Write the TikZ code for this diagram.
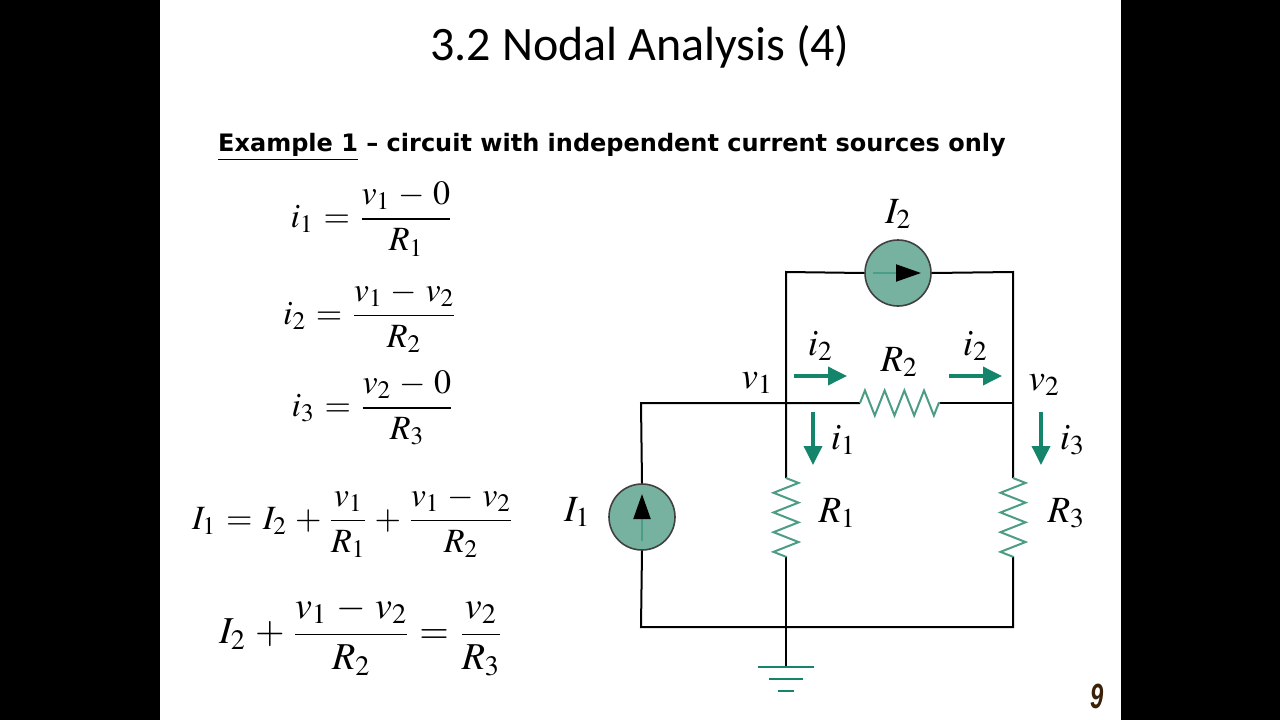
\documentclass[tikz,border=0pt]{standalone}
\usepackage{fontspec}
\usepackage{mathptmx}
\usepackage{amsmath}
\usetikzlibrary{arrows.meta,decorations.pathmorphing}
\newfontfamily\kslidefont{Carlito}
\newfontfamily\kheadfont{DejaVu Sans}
\newfontfamily\knumfont{Liberation Sans}
\definecolor{kgreen}{HTML}{14846A}
\definecolor{kfill}{HTML}{76B29F}
\definecolor{kres}{HTML}{4D9C85}
\definecolor{knum}{HTML}{3B2108}
\tikzset{
  wire/.style={line width=2pt,black},
  resistor/.style={line width=2pt,kres,decorate,decoration={zigzag,segment length=19.7pt,amplitude=12.5pt}},
  srcnode/.style={draw=black!75,line width=1.6pt,circle,fill=kfill,minimum size=66pt,inner sep=0pt},
  srcarrow/.style={line width=2pt,kgreen!45!kfill,-{Triangle[black,length=25pt,width=17pt]}},
  curarrow/.style={line width=3.6pt,kgreen,-{Triangle[length=19pt,width=18pt]}},
  gndline/.style={line width=2.2pt,kgreen},
  eqnode/.style={inner sep=0pt},
  lbl/.style={inner sep=0pt,font=\fontsize{37}{42}\selectfont},
}
\begin{document}
\begin{tikzpicture}[x=1pt,y=-1pt]
\useasboundingbox(0,0)rectangle(1280,720);
\fill[black](0,0)rectangle(1280,720);
\fill[white](160,0)rectangle(1121,720);
\node(title)[inner sep=0pt,font=\kslidefont\fontsize{48}{56}\selectfont]at(640,47){3.2 Nodal Analysis (4)};
\node(head)[inner sep=0pt,font=\kheadfont\bfseries\fontsize{24}{30}\selectfont]at(612,147){\underline{Example 1} – circuit with independent current sources only};
\node(pagenum)[inner sep=0pt,text=knum,xscale=.68,font=\knumfont\bfseries\itshape\fontsize{35}{40}\selectfont]at(1097,696){9};
% equations
\thickmuskip=5.5mu
\medmuskip=4.5mu
\foreach \kn/\kx/\ky/\kfs/\keq in {
  1/371/219/34/{i_1=\dfrac{v_1-0}{R_1}},
  2/369/317/34/{i_2=\dfrac{v_1-v_2}{R_2}},
  3/372/408/34/{i_3=\dfrac{v_2-0}{R_3}},
  4/352/522/34/{I_1=I_2+\dfrac{v_1}{R_1}+\dfrac{v_1-v_2}{R_2}},
  5/360/636/38/{I_2+\dfrac{v_1-v_2}{R_2}=\dfrac{v_2}{R_3}}}{
  \node(eq\kn)[eqnode]at(\kx,\ky){\fontsize{\kfs}{42}\selectfont$\keq$};
}
% circuit corners
\def\kxa{641}
\def\kxb{786}
\def\kxc{1013}
\def\kya{272}
\def\kyb{403}
\def\kyc{627}
\coordinate(tl)at(\kxb,\kya);
\coordinate(tr)at(\kxc,\kya);
\coordinate(ml)at(\kxa,\kyb);
\coordinate(mm)at(\kxb,\kyb);
\coordinate(mr)at(\kxc,\kyb);
\coordinate(bl)at(\kxa,\kyc);
\coordinate(bm)at(\kxb,\kyc);
\coordinate(br)at(\kxc,\kyc);
\coordinate(gnd)at(\kxb,667);
\node(srcb)[srcnode]at(898,273){};
\node(srca)[srcnode]at(642,517){};
\coordinate(rat)at(\kxb,478);
\coordinate(rab)at(\kxb,557);
\coordinate(rbl)at(860,\kyb);
\coordinate(rbr)at(940,\kyb);
\coordinate(rct)at(\kxc,478);
\coordinate(rcb)at(\kxc,557);
% wires
\draw[wire](srca.north)--(ml)--(mm)--(rbl);
\draw[wire](srca.south)--(bl)--(br)--(rcb);
\draw[wire](srcb.west)--(tl)--(rat);
\draw[wire](srcb.east)--(tr)--(rct);
\draw[wire](rbr)--(mr);
\draw[wire](rab)--(gnd);
\foreach \ka/\kb in {rat/rab,rct/rcb,rbl/rbr}{\draw[resistor](\ka)--(\kb);}
% source arrows
\coordinate(sbs)at(873,273);
\coordinate(sbe)at(921,273);
\coordinate(sas)at(642,541);
\coordinate(sae)at(642,494);
\draw[srcarrow](sbs)--(sbe);
\draw[srcarrow](sas)--(sae);
% current arrows
\foreach \kn/\kxs/\kys/\kxe/\kye in {a/794/376/847/376,b/949/376/1002/376,c/813/412/813/465,d/1041/412/1041/465}{
  \coordinate(cs\kn)at(\kxs,\kys);
  \coordinate(ce\kn)at(\kxe,\kye);
  \draw[curarrow](cs\kn)--(ce\kn);
}
% ground
\foreach \kn/\kw/\ky in {a/28/667,b/17/679,c/8/691}{
  \coordinate(gl\kn)at(\kxb-\kw,\ky);
  \coordinate(gr\kn)at(\kxb+\kw,\ky);
  \draw[gndline](gl\kn)--(gr\kn);
}
% labels
\foreach \kn/\kx/\ky/\klb in {
  ib/898/214/{I_2},ia/577/512/{I_1},
  ra/837/513/{R_1},rb/899/362/{R_2},rc/1066/513/{R_3},
  va/757/383/{v_1},vb/1044/385/{v_2},
  cb/820/346/{i_2},cd/975/346/{i_2},ca/843/440/{i_1},cc/1072/440/{i_3}}{
  \node(lb\kn)[lbl]at(\kx,\ky){$\klb$};
}
\end{tikzpicture}
\end{document}
